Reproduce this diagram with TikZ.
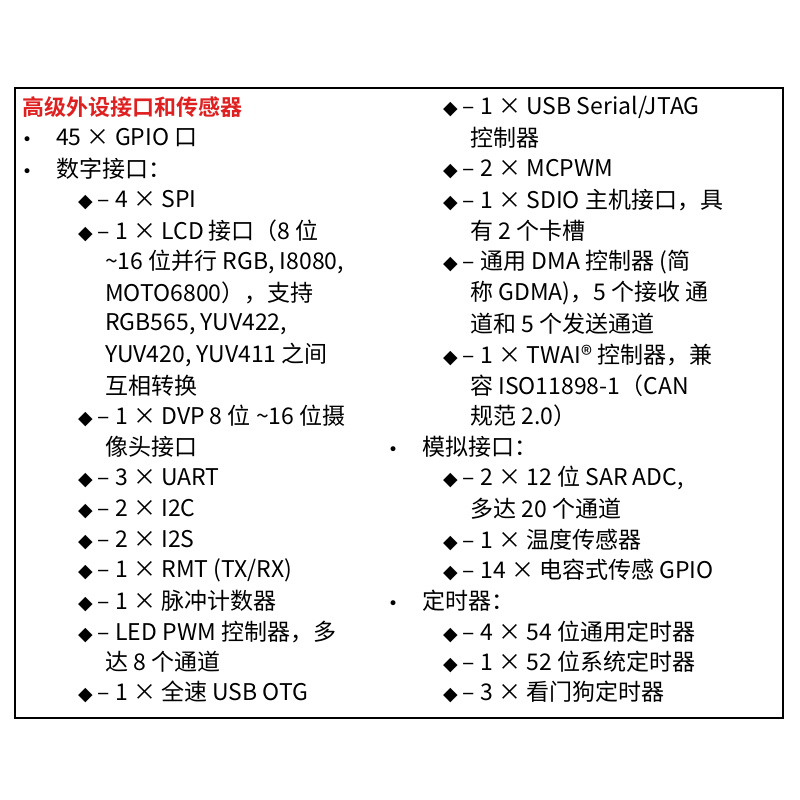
\documentclass[tikz,border=0pt]{standalone}
\usepackage{fontspec}
\setmainfont{Noto Sans CJK SC}[BoldFont={Noto Sans CJK SC Bold}]
\newfontfamily\symfont{DejaVu Sans}
\usepackage{tikz}
\definecolor{titlered}{RGB}{222,32,32}
\newcommand{\dm}{{\symfont\fontsize{19}{19}\selectfont◆}}
\newcommand{\bl}{{\symfont\fontsize{17}{17}\selectfont•}}
\tikzset{txt/.style={anchor=west,inner sep=0pt,font=\fontsize{23}{25}\selectfont}}
\begin{document}
\begin{tikzpicture}[x=1pt,y=-1pt]
  \useasboundingbox (0,0) rectangle (800,800);
  \node[draw,line width=1.1pt,minimum width=768pt,minimum height=630pt,inner sep=0pt] (box) at (399,403) {};
  \node[txt,text=titlered,font=\fontsize{22}{25}\selectfont\bfseries] (title) at (22,107) {高级外设接口和传感器};
  % left column
  \foreach \n/\x/\y/\t in {
    l1/22/138/{\bl\hspace{24pt}45 × GPIO 口},
    l2/22/169/{\bl\hspace{24pt}数字接口：},
    l3/78/200/{\dm\ – 4 × SPI},
    l4/78/231/{\dm\ – 1 × LCD 接口（8 位},
    l5/105/262/{\textasciitilde 16 位并行 RGB, I8080,},
    l6/105/293/{MOTO6800），支持},
    l7/105/324/{RGB565, YUV422,},
    l8/105/355/{YUV420, YUV411 之间},
    l9/105/386/{互相转换},
    l10/78/416/{\dm\ – 1 × DVP 8 位 \textasciitilde 16 位摄},
    l11/105/447/{像头接口},
    l12/78/478/{\dm\ – 3 × UART},
    l13/78/509/{\dm\ – 2 × I2C},
    l14/78/540/{\dm\ – 2 × I2S},
    l15/78/570/{\dm\ – 1 × RMT (TX/RX)},
    l16/78/601/{\dm\ – 1 × 脉冲计数器},
    l17/78/632/{\dm\ – LED PWM 控制器，多},
    l18/105/662/{达 8 个通道},
    l19/78/692/{\dm\ – 1 × 全速 USB OTG}}
    \node[txt] (\n) at (\x,\y) {\t};
  % right column
  \foreach \n/\x/\y/\t in {
    r1/443/107/{\dm\ – 1 × USB Serial/JTAG},
    r2/470/138/{控制器},
    r3/443/169/{\dm\ – 2 × MCPWM},
    r4/443/200/{\dm\ – 1 × SDIO 主机接口，具},
    r5/470/231/{有 2 个卡槽},
    r6/443/262/{\dm\ – 通用 DMA 控制器 (简},
    r7/470/293/{称 GDMA)，5 个接收 通},
    r8/470/324/{道和 5 个发送通道},
    r9/443/355/{\dm\ – 1 × TWAI® 控制器，兼},
    r10/470/386/{容 ISO11898-1（CAN},
    r11/470/416/{规范 2.0）},
    r12/388/447/{\bl\hspace{24pt}模拟接口：},
    r13/443/478/{\dm\ – 2 × 12 位 SAR ADC,},
    r14/470/509/{多达 20 个通道},
    r15/443/540/{\dm\ – 1 × 温度传感器},
    r16/443/570/{\dm\ – 14 × 电容式传感 GPIO},
    r17/388/601/{\bl\hspace{24pt}定时器：},
    r18/443/632/{\dm\ – 4 × 54 位通用定时器},
    r19/443/662/{\dm\ – 1 × 52 位系统定时器},
    r20/443/692/{\dm\ – 3 × 看门狗定时器}}
    \node[txt] (\n) at (\x,\y) {\t};
\end{tikzpicture}
\end{document}
